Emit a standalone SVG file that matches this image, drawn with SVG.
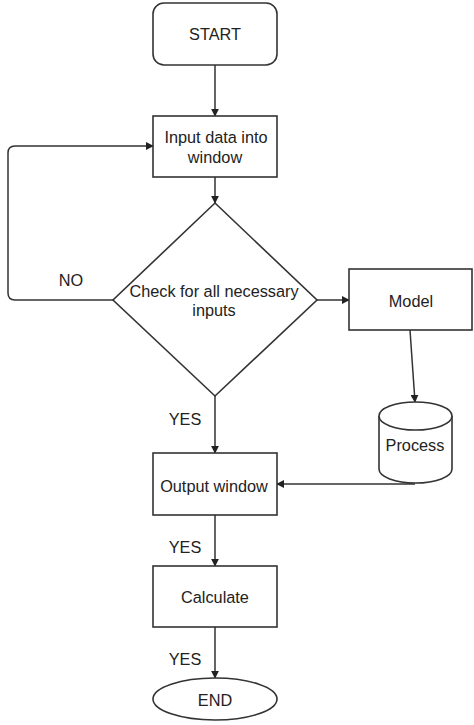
<svg xmlns="http://www.w3.org/2000/svg" width="474" height="725" viewBox="0 0 474 725">
<defs>
<marker id="arr" viewBox="0 0 10 10" refX="9" refY="5" markerWidth="8" markerHeight="8" markerUnits="userSpaceOnUse" orient="auto">
<path d="M0,0 L10,5 L0,10 z" fill="#222"/>
</marker>
<style>
.shape{fill:#fff;stroke:#333;stroke-width:1.6}
.lbl{font-family:"Liberation Sans",Arial,sans-serif;font-size:16.3px;fill:#222;text-anchor:middle}
.edge{fill:none;stroke:#333;stroke-width:1.5;marker-end:url(#arr)}
</style>
</defs>
<rect width="474" height="725" fill="#fff"/>
<g id="connectors">
<path class="edge" d="M215,65 V116"/>
<path class="edge" d="M215,177 V203"/>
<path class="edge" d="M113,300 H15 Q8,300 8,293 V153 Q8,146 15,146 H153"/>
<path class="edge" d="M317,300 H349"/>
<path class="edge" d="M410,330 L415,402"/>
<path class="edge" d="M415,484 H277"/>
<path class="edge" d="M215,396 V453"/>
<path class="edge" d="M215,515 V566"/>
<path class="edge" d="M215,627 V678"/>
<text class="lbl" x="71" y="286">NO</text>
<text class="lbl" x="185" y="425">YES</text>
<text class="lbl" x="185" y="553">YES</text>
<text class="lbl" x="185" y="665">YES</text>
</g>
<g id="start">
<rect class="shape" x="153" y="3" width="124" height="62" rx="11"/>
<text class="lbl" x="215" y="40">START</text>
</g>
<g id="input">
<rect class="shape" x="153" y="116" width="124" height="61"/>
<text class="lbl" x="216" y="143">Input data into</text>
<text class="lbl" x="215" y="163">window</text>
</g>
<g id="check">
<path class="shape" d="M215,203 L317,300 L215,396 L113,300 z"/>
<text class="lbl" x="214" y="297">Check for all necessary</text>
<text class="lbl" x="214" y="316">inputs</text>
</g>
<g id="model">
<rect class="shape" x="349" y="269" width="123" height="61"/>
<text class="lbl" x="411" y="307">Model</text>
</g>
<g id="process">
<path class="shape" d="M379,416 A36.5,14 0 0 1 452,416 V469 A36.5,14 0 0 1 379,469 Z"/>
<path class="shape" d="M379,416 A36.5,14 0 0 0 452,416" fill="none"/>
<text class="lbl" x="415" y="451">Process</text>
</g>
<g id="output">
<rect class="shape" x="153" y="453" width="124" height="62"/>
<text class="lbl" x="214" y="492">Output window</text>
</g>
<g id="calculate">
<rect class="shape" x="153" y="566" width="124" height="61"/>
<text class="lbl" x="215" y="603">Calculate</text>
</g>
<g id="end">
<ellipse class="shape" cx="215" cy="699" rx="62" ry="21"/>
<text class="lbl" x="215" y="706">END</text>
</g>
</svg>
